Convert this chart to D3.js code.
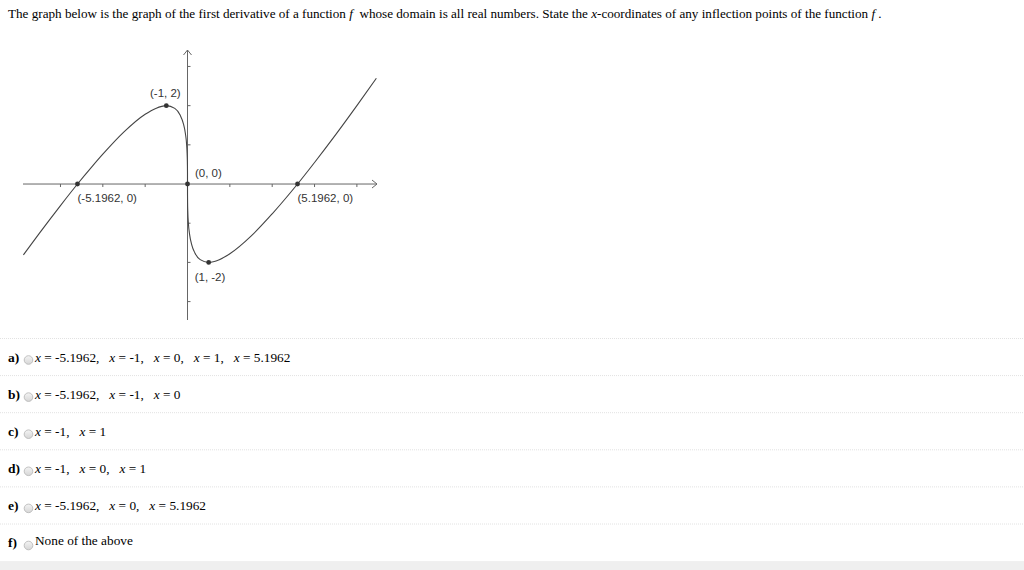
<!DOCTYPE html>
<meta charset="utf-8">
<script src="https://d3js.org/d3.v7.min.js"></script>
<style>
  body { margin: 0; background: #fff; }
  svg text { white-space: pre; }
</style>
<div id="my_dataviz"></div>
<script>

// curve of f'(x)
var curveX = [-7.75, -7, -6, -5.1962, -4.5, -4, -3, -2, -1.5, -1, -0.6, -0.35, -0.2, -0.1, -0.04, -0.015, -0.004, -0.0008, 0,
              0.0008, 0.004, 0.015, 0.04, 0.1, 0.2, 0.35, 0.6, 1, 1.5, 2, 3, 4, 5.1962, 6, 7, 8, 8.92];
var curveY = [-1.81, -1.26, -0.55, 0, 0.45, 0.76, 1.33, 1.78, 1.93, 2, 1.93, 1.76, 1.55, 1.29, 0.99, 0.725, 0.475, 0.28, 0,
              -0.28, -0.475, -0.725, -0.99, -1.29, -1.55, -1.76, -1.93, -2, -1.93, -1.78, -1.33, -0.76, 0, 0.55, 1.26, 2, 2.70];

// labelled points
var pointX = [-1, 0, -5.1962, 5.1962, 1];
var pointY = [2, 0, 0, 0, -2];
var pointLabels = ["(-1, 2)", "(0, 0)", "(-5.1962, 0)", "(5.1962, 0)", "(1, -2)"];

// ticks
var xTicks = [-6, -4, -2, 2, 4, 6, 8];
var yTicks = [-3, -2, -1, 1, 2, 3];
var xExtent = [-7.77, 8.95];
var yExtent = [-3.47, 3.42];

// answer options
var optionLetters = ["a)", "b)", "c)", "d)", "e)", "f)"];
var optionValues = [
  ["-5.1962", "-1", "0", "1", "5.1962"],
  ["-5.1962", "-1", "0"],
  ["-1", "1"],
  ["-1", "0", "1"],
  ["-5.1962", "0", "5.1962"],
  []
];
var noneText = "None of the above";

var W = 1024, H = 570;

var svg = d3.select("#my_dataviz")
  .append("svg")
    .attr("width", W)
    .attr("height", H);

// question text
var title = svg.append("text")
  .attr("x", 8)
  .attr("y", 18)
  .style("font-family", "'Liberation Serif', 'Times New Roman', serif")
  .style("font-size", "13.15px")
  .style("fill", "#000");
title.append("tspan").text("The graph below is the graph of the first derivative of a function ");
title.append("tspan").style("font-style", "italic").text("f");
title.append("tspan").text("  whose domain is all real numbers. State the ");
title.append("tspan").style("font-style", "italic").text("x");
title.append("tspan").text("-coordinates of any inflection points of the function ");
title.append("tspan").style("font-style", "italic").text("f");
title.append("tspan").text(" .");

// graph
var x = d3.scaleLinear().domain(xExtent).range([23, 377]);
var y = d3.scaleLinear().domain(yExtent).range([320, 50]);

var g = svg.append("g");
var axisColor = "#666";

g.append("line")
  .attr("x1", x(xExtent[0])).attr("x2", x(xExtent[1]))
  .attr("y1", y(0)).attr("y2", y(0))
  .attr("stroke", axisColor);
g.append("line")
  .attr("x1", x(0)).attr("x2", x(0))
  .attr("y1", y(yExtent[0])).attr("y2", y(yExtent[1]))
  .attr("stroke", axisColor);

// arrow heads
g.append("path")
  .attr("d", "M" + (x(xExtent[1]) - 5) + "," + (y(0) - 4) + "L" + x(xExtent[1]) + "," + y(0) + "L" + (x(xExtent[1]) - 5) + "," + (y(0) + 4))
  .attr("fill", "none").attr("stroke", axisColor);
g.append("path")
  .attr("d", "M" + (x(0) - 4) + "," + (y(yExtent[1]) + 5) + "L" + x(0) + "," + y(yExtent[1]) + "L" + (x(0) + 4) + "," + (y(yExtent[1]) + 5))
  .attr("fill", "none").attr("stroke", axisColor);

g.selectAll(".xt")
  .data(xTicks)
  .enter()
  .append("line")
    .attr("x1", function(d) { return x(d); })
    .attr("x2", function(d) { return x(d); })
    .attr("y1", y(0))
    .attr("y2", y(0) + 3)
    .attr("stroke", axisColor);

g.selectAll(".yt")
  .data(yTicks)
  .enter()
  .append("line")
    .attr("x1", x(0))
    .attr("x2", x(0) + 3)
    .attr("y1", function(d) { return y(d); })
    .attr("y2", function(d) { return y(d); })
    .attr("stroke", axisColor);

var line = d3.line()
  .x(function(d, i) { return x(curveX[i]); })
  .y(function(d, i) { return y(curveY[i]); })
  .curve(d3.curveMonotoneX);

g.append("path")
  .attr("d", line(curveX))
  .attr("fill", "none")
  .attr("stroke", "#444")
  .attr("stroke-width", 1.1);

g.selectAll(".pt")
  .data(pointX)
  .enter()
  .append("circle")
    .attr("cx", function(d) { return x(d); })
    .attr("cy", function(d, i) { return y(pointY[i]); })
    .attr("r", 2.4)
    .attr("fill", "#333");

// label offsets relative to the point (dx, dy, anchor)
var labelOffsets = [[-1, -8.5, "middle"], [7.5, -7.5, "start"], [0, 18, "start"], [0, 18, "start"], [-14, 18.8, "start"]];

g.selectAll(".lbl")
  .data(pointLabels)
  .enter()
  .append("text")
    .attr("x", function(d, i) { return x(pointX[i]) + labelOffsets[i][0]; })
    .attr("y", function(d, i) { return y(pointY[i]) + labelOffsets[i][1]; })
    .attr("text-anchor", function(d, i) { return labelOffsets[i][2]; })
    .style("font-family", "'Liberation Sans', Arial, sans-serif")
    .style("font-size", "11.5px")
    .style("fill", "#333")
    .text(function(d) { return d; });

// answers
var row = d3.scaleLinear().domain([0, 1]).range([361.5, 398.6]);

var defs = svg.append("defs");
var grad = defs.append("linearGradient").attr("id", "radio").attr("x1", 0).attr("y1", 0).attr("x2", 0).attr("y2", 1);
grad.append("stop").attr("offset", "0%").attr("stop-color", "#f4f4f4");
grad.append("stop").attr("offset", "100%").attr("stop-color", "#d6d6d6");

svg.selectAll(".sep")
  .data(optionLetters)
  .enter()
  .append("line")
    .attr("x1", 0).attr("x2", W)
    .attr("y1", function(d, i) { return row(i) - 23; })
    .attr("y2", function(d, i) { return row(i) - 23; })
    .attr("stroke", "#e2e2e2")
    .attr("stroke-dasharray", "1,1");

svg.append("rect")
  .attr("x", 0).attr("y", row(optionLetters.length) - 23)
  .attr("width", W).attr("height", H)
  .attr("fill", "#efefef");

var opts = svg.selectAll(".opt")
  .data(optionLetters)
  .enter()
  .append("g");

opts.append("text")
  .attr("x", 8)
  .attr("y", function(d, i) { return row(i); })
  .style("font-family", "'Liberation Serif', 'Times New Roman', serif")
  .style("font-size", "13.5px")
  .style("font-weight", "bold")
  .text(function(d) { return d; });

opts.append("circle")
  .attr("cx", 28.5)
  .attr("cy", function(d, i) { return row(i) - 1.5; })
  .attr("r", 4.3)
  .attr("fill", "url(#radio)")
  .attr("stroke", "#b4b4b4")
  .attr("stroke-width", 0.8);

opts.each(function(d, i) {
  var t = d3.select(this).append("text")
    .attr("x", 35)
    .attr("y", row(i) - (optionValues[i].length ? 0 : 2))
    .style("font-family", "'Liberation Serif', 'Times New Roman', serif")
    .style("font-size", "13.3px")
    .style("fill", "#000");
  if (!optionValues[i].length) {
    t.text(noneText);
    return;
  }
  optionValues[i].forEach(function(v, j) {
    t.append("tspan").style("font-style", "italic").text("x");
    t.append("tspan").text(" = " + v + (j < optionValues[i].length - 1 ? ",   " : ""));
  });
});

</script>
